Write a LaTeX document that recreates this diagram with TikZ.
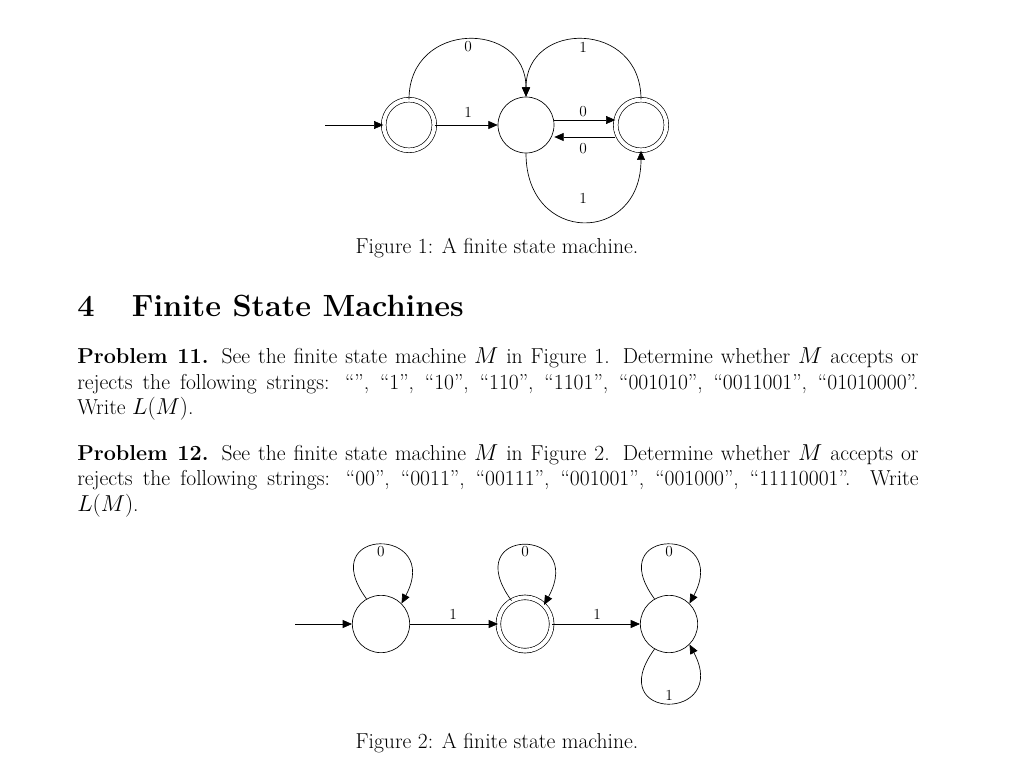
\documentclass[tikz,border=0pt]{standalone}
\usetikzlibrary{arrows.meta}
\begin{document}
\begin{tikzpicture}[x=0.75pt,y=-0.75pt,
  st/.style={circle,draw,minimum size=42pt,inner sep=0pt,line width=0.5pt},
  acc/.style={st,double,double distance=3pt,minimum size=38pt},
  ed/.style={-{Triangle[length=7pt,width=6pt]},line width=0.5pt},
  lb/.style={font=\fontsize{11.5}{13}\selectfont,inner sep=0pt},
  body/.style={anchor=base west,inner sep=0pt,font=\fontsize{16.2}{19}\selectfont}]
\useasboundingbox (0,0) rectangle (1027,770);
% Figure 1
\node[acc] (A) at (409,125) {};
\node[st] (B) at (526,125) {};
\node[acc] (C) at (641,125) {};
\coordinate (i1) at (325,125);
\draw[ed] (i1) -- (A);
\draw[ed] (A) -- (B);
\draw[ed] (B.east|-0,120) -- (C.west|-0,120);
\draw[ed] (C.west|-0,137) -- (B.east|-0,137);
\draw[ed] (A.north) .. controls (409,20) and (526,20) .. (B.north);
\draw[ed] (C.north) .. controls (641,20) and (526,20) .. (B.north);
\draw[ed] (B.south) .. controls (526,245) and (641,245) .. (C.south);
\node[lb] (l1) at (468,47) {0};
\node[lb] (l2) at (468,112) {1};
\node[lb] (l3) at (583,47) {1};
\node[lb] (l4) at (583,112) {0};
\node[lb] (l5) at (583,149) {0};
\node[lb] (l6) at (583,198) {1};
\node[body,anchor=base] (cap1) at (497,253) {Figure 1: A finite state machine.};
% Text
\node[body,font=\fontsize{23}{28}\selectfont\bfseries] (h) at (77,316) {4\hspace{28pt}Finite State Machines};
\node[body] (p1) at (77,363) {\makebox[631pt][s]{\textbf{Problem 11.} See the finite state machine $M$ in Figure 1. Determine whether $M$ accepts or}};
\node[body] (p2) at (77,389) {\makebox[631pt][s]{rejects the following strings: ``'', ``1'', ``10'', ``110'', ``1101'', ``001010'', ``0011001'', ``01010000''.}};
\node[body] (p3) at (77,414) {Write $L(M)$.};
\node[body] (q1) at (77,460) {\makebox[631pt][s]{\textbf{Problem 12.} See the finite state machine $M$ in Figure 2. Determine whether $M$ accepts or}};
\node[body] (q2) at (77,485) {\makebox[631pt][s]{rejects the following strings: ``00'', ``0011'', ``00111'', ``001001'', ``001000'', ``11110001''. Write}};
\node[body] (q3) at (77,511) {$L(M)$.};
% Figure 2
\node[st,minimum size=43pt] (D) at (381,624) {};
\node[acc,minimum size=40pt] (E) at (525,624) {};
\node[st,minimum size=43pt] (F) at (669,624) {};
\coordinate (i2) at (295,624);
\draw[ed] (i2) -- (D);
\draw[ed] (D) -- (E);
\draw[ed] (E) -- (F);
\foreach \s in {D,E,F}{
  \draw[ed] (\s.120) .. controls ([shift={(-68,-98)}]\s.center) and ([shift={(62,-98)}]\s.center) .. (\s.45);
}
\draw[ed] (F.240) .. controls ([shift={(-68,98)}]F.center) and ([shift={(62,98)}]F.center) .. (F.-45);
\node[lb] (m1) at (381,552) {0};
\node[lb] (m2) at (525,552) {0};
\node[lb] (m3) at (669,552) {0};
\node[lb] (m4) at (669,695) {1};
\node[lb] (m5) at (453,614) {1};
\node[lb] (m6) at (597,614) {1};
\node[body,anchor=base] (cap2) at (497,748) {Figure 2: A finite state machine.};
\end{tikzpicture}
\end{document}
